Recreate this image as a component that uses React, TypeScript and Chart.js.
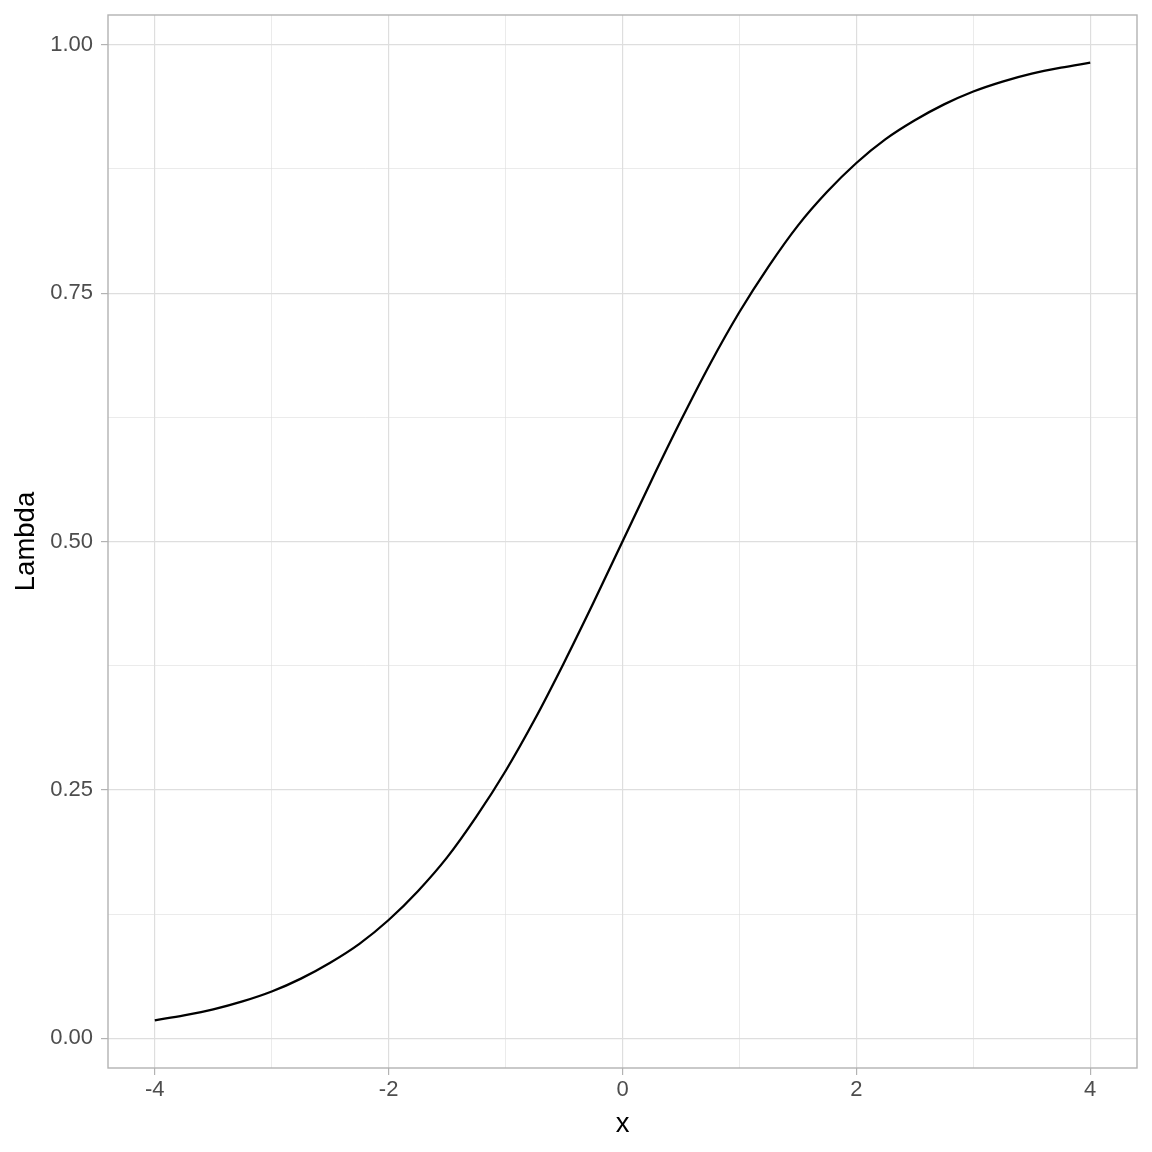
import React, { useEffect, useRef } from "react";
import { Chart, registerables } from "chart.js";

Chart.register(...registerables);

const xValues = [
  -4, -3.75, -3.5, -3.25, -3, -2.75, -2.5, -2.25, -2, -1.75, -1.5, -1.25, -1, -0.75, -0.5, -0.25,
  0, 0.25, 0.5, 0.75, 1, 1.25, 1.5, 1.75, 2, 2.25, 2.5, 2.75, 3, 3.25, 3.5, 3.75, 4,
];
const lambdaValues = [
  0.018, 0.023, 0.029, 0.037, 0.047, 0.06, 0.076, 0.095, 0.119, 0.148, 0.182, 0.223, 0.269, 0.321, 0.378, 0.438,
  0.5, 0.562, 0.622, 0.679, 0.731, 0.777, 0.818, 0.852, 0.881, 0.905, 0.924, 0.94, 0.953, 0.963, 0.971, 0.977, 0.982,
];
const xTicks = [-4, -3, -2, -1, 0, 1, 2, 3, 4];
const xLabelTicks = [-4, -2, 0, 2, 4];
const yTicks = [0, 0.125, 0.25, 0.375, 0.5, 0.625, 0.75, 0.875, 1];
const yLabelTicks = [0, 0.25, 0.5, 0.75, 1];
const xTitle = "x";
const yTitle = "Lambda";

const FONT = "'Liberation Sans', Arial, Helvetica, sans-serif";
const GRID = "#DEDEDE";
const BORDER = "#B3B3B3";

const isMajor = (v: number, majors: number[]) => majors.some((m) => Math.abs(m - v) < 1e-9);

export default function App() {
  const ref = useRef<HTMLCanvasElement | null>(null);
  useEffect(() => {
    if (!ref.current) return;
    const borderPlugin = {
      id: "panelBorder",
      afterDraw(chart: any) {
        const { ctx, chartArea } = chart;
        ctx.save();
        ctx.strokeStyle = BORDER;
        ctx.lineWidth = 1.4;
        ctx.strokeRect(chartArea.left, chartArea.top, chartArea.right - chartArea.left, chartArea.bottom - chartArea.top);
        ctx.restore();
      },
    };
    const chart = new Chart(ref.current, {
      type: "line",
      data: {
        datasets: [
          {
            data: xValues.map((x, i) => ({ x, y: lambdaValues[i] })),
            borderColor: "#000000",
            borderWidth: 2.3,
            pointRadius: 0,
            cubicInterpolationMode: "monotone",
            fill: false,
          },
        ],
      },
      options: {
        animation: false,
        responsive: false,
        devicePixelRatio: 1,
        layout: { padding: { top: 15, right: 15, left: 0, bottom: 0 } },
        plugins: { legend: { display: false }, tooltip: { enabled: false } },
        scales: {
          x: {
            type: "linear",
            min: -4.4,
            max: 4.4,
            afterBuildTicks: (scale: any) => {
              scale.ticks = xTicks.map((v) => ({ value: v }));
            },
            afterFit: (scale: any) => {
              scale.height = 84;
              scale.paddingLeft = 0;
              scale.paddingRight = 0;
            },
            border: { display: false },
            grid: {
              color: GRID,
              lineWidth: (ctx: any) => (isMajor(ctx.tick.value, xLabelTicks) ? 1.2 : 0.6),
              tickLength: 7,
              tickColor: (ctx: any) => (isMajor(ctx.tick.value, xLabelTicks) ? BORDER : "rgba(0,0,0,0)"),
              tickWidth: 1.2,
            },
            ticks: {
              autoSkip: false,
              maxRotation: 0,
              padding: 2,
              color: "#4D4D4D",
              font: { family: FONT, size: 22 },
              callback: (v: any) => (isMajor(Number(v), xLabelTicks) ? String(v) : ""),
            },
            title: {
              display: true,
              text: xTitle,
              color: "#000000",
              font: { family: FONT, size: 27.5 },
              padding: { top: 0, bottom: 11 },
            },
          },
          y: {
            type: "linear",
            min: -0.03,
            max: 1.03,
            afterBuildTicks: (scale: any) => {
              scale.ticks = yTicks.map((v) => ({ value: v }));
            },
            afterFit: (scale: any) => {
              scale.width = 108;
              scale.paddingTop = 0;
              scale.paddingBottom = 0;
            },
            border: { display: false },
            grid: {
              color: GRID,
              lineWidth: (ctx: any) => (isMajor(ctx.tick.value, yLabelTicks) ? 1.2 : 0.6),
              tickLength: 7,
              tickColor: (ctx: any) => (isMajor(ctx.tick.value, yLabelTicks) ? BORDER : "rgba(0,0,0,0)"),
              tickWidth: 1.2,
            },
            ticks: {
              autoSkip: false,
              padding: 8,
              color: "#4D4D4D",
              font: { family: FONT, size: 22 },
              callback: (v: any) => (isMajor(Number(v), yLabelTicks) ? Number(v).toFixed(2) : ""),
            },
            title: {
              display: true,
              text: yTitle,
              color: "#000000",
              font: { family: FONT, size: 27.5 },
              padding: { top: 10, bottom: 0 },
            },
          },
        },
      },
      plugins: [borderPlugin],
    } as any);
    return () => chart.destroy();
  }, []);
  return (
    <div style={{ position: "absolute", left: 0, top: 0, width: 1152, height: 1152, background: "#fff" }}>
      <canvas ref={ref} width={1152} height={1152} style={{ width: 1152, height: 1152, display: "block" }} />
    </div>
  );
}
